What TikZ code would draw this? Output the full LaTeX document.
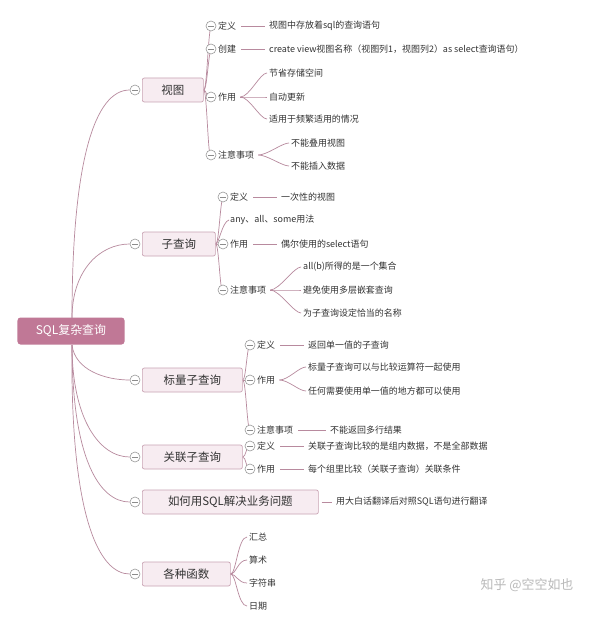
\documentclass[tikz,border=0pt]{standalone}
\usepackage{fontspec}
\setmainfont{Noto Sans CJK SC}
\pgfdeclarelayer{bg}
\pgfsetlayers{bg,main}
\begin{document}
\begin{tikzpicture}[x=1bp,y=-1bp,
  conn/.style={draw=linec,line width=0.7bp},
  minus/.style={circle,draw=gray!80,fill=white,minimum size=10bp,inner sep=0pt,line width=0.6bp,
    path picture={\draw[gray!90,line width=0.6bp] ([xshift=-3bp]path picture bounding box.center) -- ([xshift=3bp]path picture bounding box.center);}},
  lbl/.style={anchor=west,inner sep=1bp,font=\fontsize{9}{10}\selectfont,text=black!80},
  mainbox/.style={draw=boxb,fill=boxf,rounded corners=2bp,minimum height=24bp,anchor=west,font=\fontsize{11.5}{13}\selectfont,text=black!80,inner xsep=10bp,line width=0.7bp},
]
\definecolor{linec}{HTML}{B88A9E}
\definecolor{boxb}{HTML}{C9A3B3}
\definecolor{boxf}{HTML}{F7ECF1}
\definecolor{rootf}{HTML}{C07896}
\begin{pgfonlayer}{bg}
\fill[white] (0,0) rectangle (600,635);
\end{pgfonlayer}
\useasboundingbox (0,0) rectangle (600,635);

% root
\node[fill=rootf,rounded corners=3bp,minimum width=107bp,minimum height=27bp,text=white,font=\fontsize{12}{14}\selectfont] (root) at (71,331) {SQL复杂查询};
\coordinate (rt) at (72,318);
\coordinate (rb) at (72,345);

% main nodes
\node[mainbox,minimum width=61bp] (m1) at (142,90) {视图};
\node[mainbox,minimum width=73bp] (m2) at (142,244) {子查询};
\node[mainbox,minimum width=100bp] (m3) at (142,380) {标量子查询};
\node[mainbox,minimum width=100bp] (m4) at (142,457) {关联子查询};
\node[mainbox,minimum width=176bp] (m5) at (142,502) {如何用SQL解决业务问题};
\node[mainbox,minimum width=88bp] (m6) at (142,574) {各种函数};
\foreach \i/\y in {1/90,2/244,3/380,4/457,5/502,6/574}{\node[minus] (mc\i) at (135,\y) {};}
\draw[conn] (rt) .. controls (72,160) and (95,90) .. (mc1.west);
\draw[conn] (rt) .. controls (72,270) and (100,244) .. (mc2.west);
\draw[conn] (rb) .. controls (75,370) and (105,380) .. (mc3.west);
\draw[conn] (rb) .. controls (72,420) and (100,457) .. (mc4.west);
\draw[conn] (rb) .. controls (72,460) and (100,502) .. (mc5.west);
\draw[conn] (rb) .. controls (70,520) and (100,574) .. (mc6.west);

% ---------- 视图
\foreach \n/\y/\t in {a/26/定义,b/49/创建,c/97/作用,d/155/注意事项}{
  \node[minus] (v\n) at (211,\y) {};
  \node[lbl] (vl\n) at (217,\y) {\t};
  \begin{pgfonlayer}{bg}\draw[conn] (m1.east) .. controls (207,90) and (208,\y+8) .. (v\n.center);\end{pgfonlayer}
}
\node[lbl] (va1) at (268,26) {视图中存放着sql的查询语句};
\node[lbl] (vb1) at (268,49) {create view视图名称（视图列1，视图列2）as select查询语句）};
\draw[conn,shorten <=4bp,shorten >=3bp] (vla.east) -- (va1.west);
\draw[conn,shorten <=4bp,shorten >=3bp] (vlb.east) -- (vb1.west);
\node[lbl] (vc1) at (268,73) {节省存储空间};
\node[lbl] (vc2) at (268,97) {自动更新};
\node[lbl] (vc3) at (268,119) {适用于频繁适用的情况};
\foreach \k in {1,2,3}{\draw[conn] ([xshift=3bp]vlc.east) .. controls ([xshift=12bp]vlc.east) and ([xshift=-8bp]vc\k.west) .. ([xshift=-1bp]vc\k.west);}
\node[lbl] (vd1) at (290,143) {不能叠用视图};
\node[lbl] (vd2) at (290,166) {不能插入数据};
\foreach \k in {1,2}{\draw[conn] ([xshift=3bp]vld.east) .. controls ([xshift=12bp]vld.east) and ([xshift=-8bp]vd\k.west) .. ([xshift=-1bp]vd\k.west);}

% ---------- 子查询
\foreach \n/\y/\t in {a/197/定义,c/244/作用,d/290/注意事项}{
  \node[minus] (s\n) at (223,\y) {};
  \node[lbl] (sl\n) at (229,\y) {\t};
  \begin{pgfonlayer}{bg}\draw[conn] (m2.east) .. controls (219,244) and (220,\y+6) .. (s\n.center);\end{pgfonlayer}
}
\node[lbl] (slb) at (229,220) {any、all、some用法};
\draw[conn] (m2.east) .. controls (219,244) and (222,222) .. (slb.west);
\node[lbl] (sa1) at (280,197) {一次性的视图};
\node[lbl] (sc1) at (280,244) {偶尔使用的select语句};
\draw[conn,shorten <=4bp,shorten >=3bp] (sla.east) -- (sa1.west);
\draw[conn,shorten <=4bp,shorten >=3bp] (slc.east) -- (sc1.west);
\node[lbl] (sd1) at (302,267) {all(b)所得的是一个集合};
\node[lbl] (sd2) at (302,290) {避免使用多层嵌套查询};
\node[lbl] (sd3) at (302,313) {为子查询设定恰当的名称};
\foreach \k in {1,2,3}{\draw[conn] ([xshift=3bp]sld.east) .. controls ([xshift=12bp]sld.east) and ([xshift=-8bp]sd\k.west) .. ([xshift=-1bp]sd\k.west);}

% ---------- 标量子查询
\foreach \n/\y/\t in {a/345/定义,c/380/作用,d/430/注意事项}{
  \node[minus] (q\n) at (250,\y) {};
  \node[lbl] (ql\n) at (256,\y) {\t};
  \begin{pgfonlayer}{bg}\draw[conn] (m3.east) .. controls (246,380) and (247,\y) .. (q\n.center);\end{pgfonlayer}
}
\node[lbl] (qa1) at (307,345) {返回单一值的子查询};
\draw[conn,shorten <=4bp,shorten >=3bp] (qla.east) -- (qa1.west);
\node[lbl] (qc1) at (307,367) {标量子查询可以与比较运算符一起使用};
\node[lbl] (qc2) at (307,391) {任何需要使用单一值的地方都可以使用};
\foreach \k in {1,2}{\draw[conn] ([xshift=3bp]qlc.east) .. controls ([xshift=12bp]qlc.east) and ([xshift=-8bp]qc\k.west) .. ([xshift=-1bp]qc\k.west);}
\node[lbl] (qd1) at (329,430) {不能返回多行结果};
\draw[conn,shorten <=4bp,shorten >=3bp] (qld.east) -- (qd1.west);

% ---------- 关联子查询
\foreach \n/\y/\t in {a/446/定义,c/469/作用}{
  \node[minus] (r\n) at (250,\y) {};
  \node[lbl] (rl\n) at (256,\y) {\t};
  \begin{pgfonlayer}{bg}\draw[conn] (m4.east) .. controls (246,457) and (246,\y) .. (r\n.center);\end{pgfonlayer}
}
\node[lbl] (ra1) at (307,446) {关联子查询比较的是组内数据，不是全部数据};
\node[lbl] (rc1) at (307,469) {每个组里比较（关联子查询）关联条件};
\draw[conn,shorten <=4bp,shorten >=3bp] (rla.east) -- (ra1.west);
\draw[conn,shorten <=4bp,shorten >=3bp] (rlc.east) -- (rc1.west);

% ---------- 如何用SQL
\node[lbl] (h1) at (335,502) {用大白话翻译后对照SQL语句进行翻译};
\draw[conn,shorten <=3bp,shorten >=3bp] (m5.east) -- (h1.west);

% ---------- 各种函数
\foreach \k/\y/\t in {1/537/汇总,2/560/算术,3/583/字符串,4/606/日期}{
  \node[lbl] (f\k) at (248,\y) {\t};
  \draw[conn] (m6.east) .. controls (236,574) and (238,\y) .. ([xshift=-1bp]f\k.west);
}

% watermark
\node[text=gray!55,font=\fontsize{13}{15}\selectfont] (wm) at (527,585) {知乎 @空空如也};
\end{tikzpicture}
\end{document}
